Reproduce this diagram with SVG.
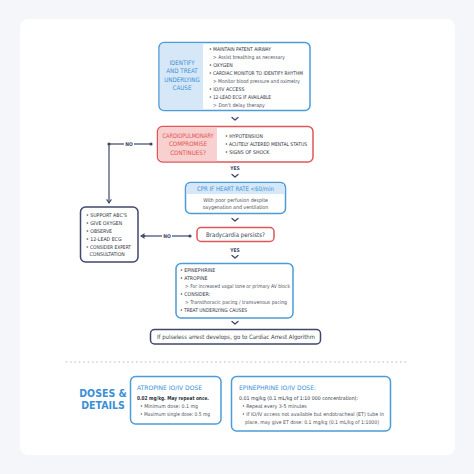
<svg xmlns="http://www.w3.org/2000/svg" width="474" height="474" viewBox="0 0 474 474">
<defs>
<style>
text{font-family:"Liberation Sans Narrow","DejaVu Sans Condensed","Liberation Sans",sans-serif;}
.b{fill:#fff;stroke:#4b9cd9;stroke-width:1.5;}
.r{fill:#fff;stroke:#e0575a;stroke-width:1.5;}
.n{fill:#fff;stroke:#3f4868;stroke-width:1.5;}
.t{font-size:5.2px;fill:#2e3340;}
.s{font-size:5.2px;fill:#4a4f5c;}
.bh{font-size:6.2px;fill:#3a8fd6;}
.rh{font-size:6.2px;fill:#e0534f;}
.c{fill:none;stroke:#3f4868;stroke-width:1.2;}
.lbl{font-size:5px;fill:#3f4868;font-weight:bold;}
.chev{fill:none;stroke:#3f4868;stroke-width:1.3;stroke-linecap:round;stroke-linejoin:round;}
</style>
<marker id="ah" viewBox="0 0 10 10" refX="8" refY="5" markerWidth="5" markerHeight="5" orient="auto">
<path d="M2,1 L8,5 L2,9" fill="none" stroke="#3f4868" stroke-width="1.8"/>
</marker>
</defs>
<rect x="0" y="0" width="474" height="474" fill="#f4f6fa"/>
<rect x="20" y="19" width="435" height="436" rx="8" fill="#fff"/>

<g id="connectors">
<polyline class="chev" points="232,117.5 235,120 238,117.5"/>
<polyline class="chev" points="232,174.5 235,177 238,174.5"/>
<polyline class="chev" points="232,218.5 235,221 238,218.5"/>
<polyline class="chev" points="232,255.5 235,258 238,255.5"/>
<polyline class="chev" points="232,321.5 235,324 238,321.5"/>
<text class="lbl" x="235" y="170" text-anchor="middle">YES</text>
<text class="lbl" x="235" y="252" text-anchor="middle">YES</text>
<line class="c" x1="151" y1="144" x2="134" y2="144"/>
<line class="c" x1="124" y1="144" x2="109" y2="144"/>
<polyline class="c" points="109,144 109,203" marker-end="url(#ah)"/>
<circle cx="151" cy="144" r="1.6" fill="#3f4868"/>
<circle cx="109" cy="144" r="1.6" fill="#3f4868"/>
<text class="lbl" x="129" y="145.8" text-anchor="middle">NO</text>
<line class="c" x1="190" y1="236" x2="172" y2="236"/>
<line class="c" x1="162" y1="236" x2="141" y2="236" marker-end="url(#ah)"/>
<circle cx="190" cy="236" r="1.6" fill="#3f4868"/>
<circle cx="144" cy="236" r="1.3" fill="#3f4868"/>
<text class="lbl" x="167" y="237.8" text-anchor="middle">NO</text>
<line x1="66" y1="362" x2="408" y2="362" stroke="#b7bcc6" stroke-width="1" stroke-dasharray="0.8 3.6" stroke-linecap="round"/>
</g>

<g id="identify">
<rect class="b" x="159" y="42.5" width="151" height="68" rx="5"/>
<path d="M164,43.25 H203 V109.75 H164 A4.25,4.25 0 0 1 159.75,105.5 V47.5 A4.25,4.25 0 0 1 164,43.25 Z" fill="#d6e8f8"/>
<text class="bh" text-anchor="middle"><tspan x="182" y="65">IDENTIFY</tspan><tspan x="182" y="73.3">AND TREAT</tspan><tspan x="182" y="81.6">UNDERLYING</tspan><tspan x="182" y="89.9">CAUSE</tspan></text>
<text class="t" x="209" y="51" textLength="62" lengthAdjust="spacingAndGlyphs">• MAINTAIN PATENT AIRWAY</text>
<text class="s" x="213" y="59" textLength="72" lengthAdjust="spacingAndGlyphs">&gt; Assist breathing as necessary</text>
<text class="t" x="209" y="67">• OXYGEN</text>
<text class="t" x="209" y="75" textLength="94" lengthAdjust="spacingAndGlyphs">• CARDIAC MONITOR TO IDENTIFY RHYTHM</text>
<text class="s" x="213" y="83" textLength="87" lengthAdjust="spacingAndGlyphs">&gt; Monitor blood pressure and oximetry</text>
<text class="t" x="209" y="91">• IO/IV ACCESS</text>
<text class="t" x="209" y="99" textLength="62" lengthAdjust="spacingAndGlyphs">• 12-LEAD ECG IF AVAILABLE</text>
<text class="s" x="213" y="107">&gt; Don't delay therapy</text>
</g>

<g id="compromise">
<rect class="r" x="157.5" y="126.5" width="155.5" height="35.5" rx="5"/>
<path d="M162.5,127.25 H217 V161.25 H162.5 A4.25,4.25 0 0 1 158.25,157 V131.5 A4.25,4.25 0 0 1 162.5,127.25 Z" fill="#f9d0d0"/>
<text class="rh" x="188" y="138" text-anchor="middle" textLength="51" lengthAdjust="spacingAndGlyphs">CARDIOPULMONARY</text>
<text class="rh" text-anchor="middle"><tspan x="188" y="146.3">COMPROMISE</tspan><tspan x="188" y="154.6">CONTINUES?</tspan></text>
<text class="t" x="225" y="138">• HYPOTENSION</text>
<text class="t" x="225" y="146" textLength="82" lengthAdjust="spacingAndGlyphs">• ACUTELY ALTERED MENTAL STATUS</text>
<text class="t" x="225" y="154">• SIGNS OF SHOCK</text>
</g>

<g id="cpr">
<rect class="b" x="185.5" y="182.5" width="100" height="31" rx="5"/>
<rect x="187" y="184" width="97" height="10" fill="#d6e8f8"/>
<text class="bh" x="235.5" y="191" text-anchor="middle" textLength="77" lengthAdjust="spacingAndGlyphs">CPR IF HEART RATE &lt;60/min</text>
<text class="s" text-anchor="middle"><tspan x="235.5" y="201.5">With poor perfusion despite</tspan><tspan x="235.5" y="209">oxygenation and ventilation</tspan></text>
</g>

<g id="persists">
<rect class="r" x="197" y="227.5" width="77" height="14" rx="4"/>
<text x="235.5" y="237" text-anchor="middle" font-size="6.2" fill="#3a3f4c" textLength="59" lengthAdjust="spacingAndGlyphs">Bradycardia persists?</text>
</g>

<g id="support">
<rect class="n" x="80.5" y="207" width="57.5" height="55" rx="5"/>
<text class="t"><tspan x="86" y="217">• SUPPORT ABC'S</tspan><tspan x="86" y="225">• GIVE OXYGEN</tspan><tspan x="86" y="232.5">• OBSERVE</tspan><tspan x="86" y="240.5">• 12-LEAD ECG</tspan></text>
<text class="t" x="86" y="248.5" textLength="45" lengthAdjust="spacingAndGlyphs">• CONSIDER EXPERT</text>
<text class="t" x="89.5" y="256">CONSULTATION</text>
</g>

<g id="treat">
<rect class="b" x="176" y="263.5" width="117" height="54.5" rx="5"/>
<text class="t"><tspan x="180" y="272">• EPINEPHRINE</tspan><tspan x="180" y="280">• ATROPINE</tspan></text>
<text class="s" x="185" y="288" textLength="105" lengthAdjust="spacingAndGlyphs">&gt; For increased vagal tone or primary AV block</text>
<text class="t" x="180" y="296">• CONSIDER:</text>
<text class="s" x="185" y="304" textLength="102" lengthAdjust="spacingAndGlyphs">&gt; Transthoracic pacing / transvenous pacing</text>
<text class="t" x="180" y="312" textLength="67" lengthAdjust="spacingAndGlyphs">• TREAT UNDERLYING CAUSES</text>
</g>

<g id="arrest">
<rect class="n" x="150.5" y="329.5" width="170" height="14.5" rx="4"/>
<text x="236" y="339" text-anchor="middle" font-size="6" fill="#3a3f4c" textLength="158" lengthAdjust="spacingAndGlyphs">If pulseless arrest develops, go to Cardiac Arrest Algorithm</text>
</g>

<g id="doses">
<text text-anchor="middle" font-size="10.5" font-weight="bold" fill="#3a8fd6"><tspan x="103" y="397">DOSES &amp;</tspan><tspan x="103" y="409">DETAILS</tspan></text>
</g>

<g id="atropine">
<rect class="b" x="130.5" y="376.5" width="90.5" height="47.5" rx="5"/>
<text class="bh" x="137" y="389.5" font-size="6.6" textLength="65" lengthAdjust="spacingAndGlyphs">ATROPINE IO/IV DOSE</text>
<text x="137" y="400" font-size="5.4" font-weight="bold" fill="#2e3340" textLength="72" lengthAdjust="spacingAndGlyphs">0.02 mg/kg. May repeat once.</text>
<text class="s"><tspan x="140" y="408">• Minimum dose: 0.1 mg</tspan></text>
<text class="s" x="140" y="416" textLength="70" lengthAdjust="spacingAndGlyphs">• Maximum single dose: 0.5 mg</text>
</g>

<g id="epinephrine">
<rect class="b" x="231.5" y="376.5" width="159" height="54.5" rx="5"/>
<text class="bh" x="239" y="389.5" font-size="6.6" textLength="77" lengthAdjust="spacingAndGlyphs">EPINEPHRINE IO/IV DOSE:</text>
<text x="239" y="399.5" font-size="5.2" fill="#2e3340" textLength="119" lengthAdjust="spacingAndGlyphs">0.01 mg/kg (0.1 mL/kg of 1:10 000 concentration):</text>
<text class="s" x="242" y="408">• Repeat every 3-5 minutes</text>
<text class="s" x="242" y="416" textLength="142" lengthAdjust="spacingAndGlyphs">• If IO/IV access not available but endotracheal (ET) tube in</text>
<text class="s" x="245" y="424" textLength="134" lengthAdjust="spacingAndGlyphs">place, may give ET dose: 0.1 mg/kg (0.1 mL/kg of 1:1000)</text>
</g>
</svg>
